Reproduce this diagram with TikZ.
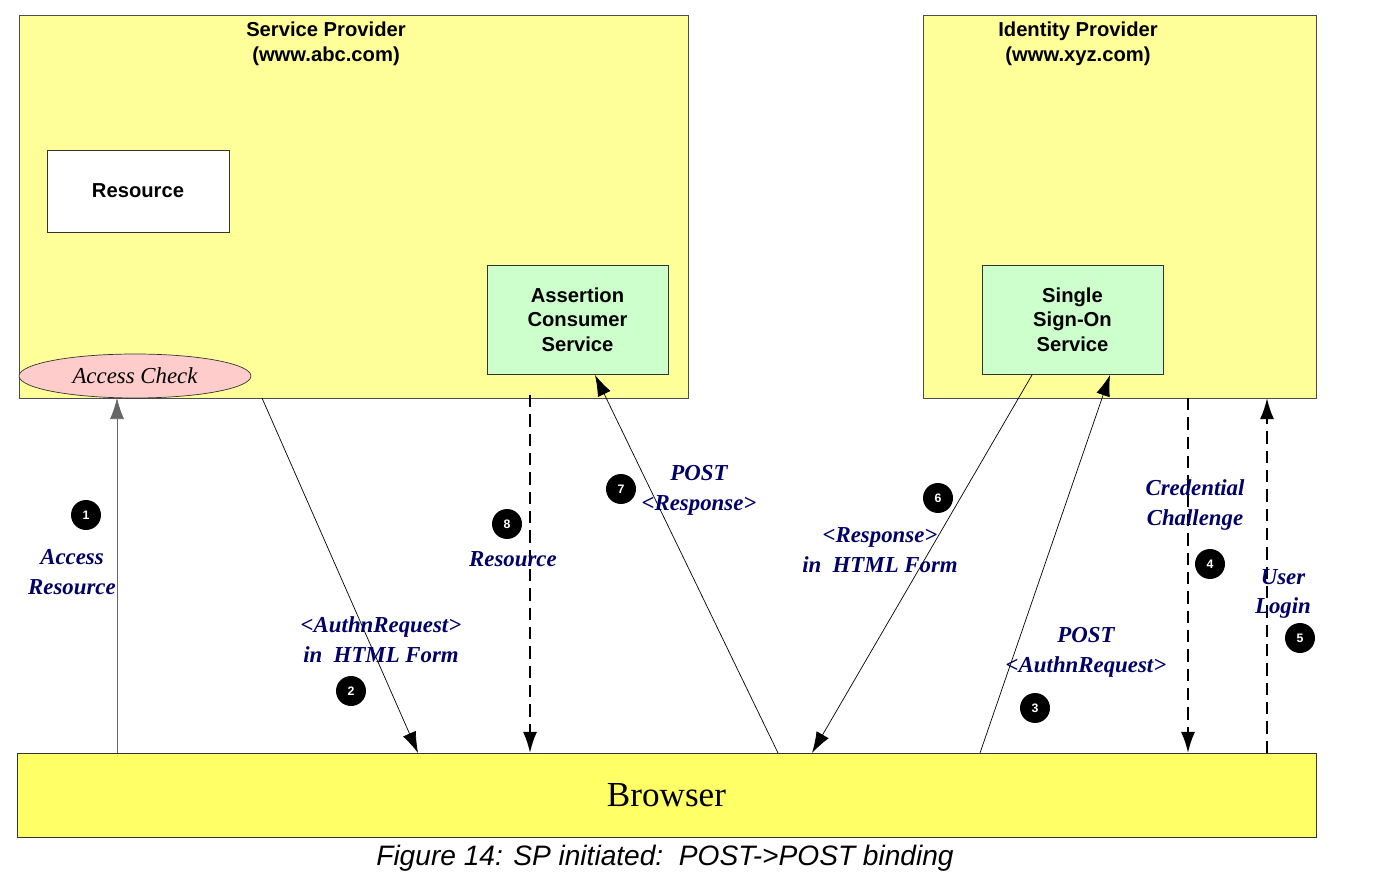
\documentclass[tikz,border=0pt]{standalone}
\usepackage{fontspec}
\setmainfont{Liberation Serif}
\newfontfamily\sansf{Liberation Sans}
\usetikzlibrary{shapes.geometric, arrows.meta}
\definecolor{pyellow}{HTML}{FFFF99}
\definecolor{byellow}{HTML}{FFFF66}
\definecolor{pgreen}{HTML}{CCFFCC}
\definecolor{ppink}{HTML}{FFCCCC}
\definecolor{lblue}{HTML}{000066}
\begin{document}
\begin{tikzpicture}[x=0.02cm, y=-0.02cm,
    party/.style={draw=black!70, fill=pyellow},
    svc/.style={draw=black!80, fill=pgreen, align=center, font=\sansf\bfseries\fontsize{11.5}{14}\selectfont},
    stepno/.style={circle, fill=black, text=white, inner sep=0pt, minimum size=0.6cm, font=\sansf\bfseries\scriptsize},
    msg/.style={text=lblue, align=center, font=\bfseries\itshape\fontsize{13}{17}\selectfont},
    flow/.style={-{Latex[length=12pt, width=8pt]}, thin},
    ret/.style={-{Latex[length=12pt, width=8pt]}, very thick, dashed, dash pattern=on 7pt off 4pt},
]
  \useasboundingbox (0,0) rectangle (1376,884);

  % parties
  \draw[party] (19,15) rectangle (688,398);
  \node[font=\sansf\bfseries\fontsize{11.5}{14}\selectfont, align=center] (sp) at (326,44) {Service Provider\\(www.abc.com)};
  \draw[party] (923,15) rectangle (1316,398);
  \node[font=\sansf\bfseries\fontsize{11.5}{14}\selectfont, align=center] (idp) at (1078,44) {Identity Provider\\(www.xyz.com)};

  \node[draw=black!80, fill=white, minimum width=3.64cm, minimum height=1.64cm, font=\sansf\bfseries\fontsize{11.5}{14}\selectfont] (res) at (138,191) {Resource};
  \node[svc, minimum width=3.62cm, minimum height=2.18cm] (acs) at (577.5,319.5) {Assertion\\Consumer\\Service};
  \node[svc, minimum width=3.62cm, minimum height=2.18cm] (sso) at (1072.5,319.5) {Single\\Sign-On\\Service};
  \node[ellipse, draw=black!80, fill=ppink, minimum width=4.64cm, minimum height=0.88cm, inner sep=0pt, font=\itshape\fontsize{13}{15}\selectfont] (chk) at (135,376) {Access Check};

  \node[draw=black!80, fill=byellow, minimum width=25.98cm, minimum height=1.68cm, font=\fontsize{20}{24}\selectfont] (br) at (666.5,795) {Browser};

  % connectors
  \coordinate (b1) at (117,753);  \coordinate (c1) at (117,398);
  \coordinate (s2) at (262,398);  \coordinate (b2) at (418,753);
  \coordinate (s8) at (530,395);  \coordinate (b8) at (530,753);
  \coordinate (b7) at (778,753);  \coordinate (a7) at (595,375);
  \coordinate (s6) at (1032,375); \coordinate (b6) at (812,753);
  \coordinate (b3) at (980,753);  \coordinate (a3) at (1110,375);
  \coordinate (s4) at (1188,398); \coordinate (b4) at (1188,753);
  \coordinate (b5) at (1267,753); \coordinate (a5) at (1267,398);
  \draw[flow, draw=black!60] (b1) -- (c1);
  \draw[flow] (s2) -- (b2);
  \draw[ret] (s8) -- (b8);
  \draw[flow] (b7) -- (a7);
  \draw[flow] (s6) -- (b6);
  \draw[flow] (b3) -- (a3);
  \draw[ret] (s4) -- (b4);
  \draw[ret] (b5) -- (a5);

  % labels
  \node[msg] (m1) at (72,572) {Access\\Resource};
  \node[msg] (m2) at (381,640) {<AuthnRequest>\\in\ \ HTML Form};
  \node[msg] (m8) at (513,559) {Resource};
  \node[msg] (m7) at (699,490) {POST\\<Response>};
  \node[msg] (m6) at (880,550) {<Response>\\in\ \ HTML Form};
  \node[msg] (m3) at (1086,652) {POST\\<AuthnRequest>};
  \node[msg] (m4) at (1195,505) {Credential\\Challenge};
  \node[msg] (m5) at (1283,594) {User\\Login};

  \node[stepno] (n1) at (86,515) {1};
  \node[stepno] (n2) at (351,691) {2};
  \node[stepno] (n3) at (1035,708) {3};
  \node[stepno] (n4) at (1210,564) {4};
  \node[stepno] (n5) at (1300,638) {5};
  \node[stepno] (n6) at (938,498) {6};
  \node[stepno] (n7) at (621,489) {7};
  \node[stepno] (n8) at (507,524) {8};

  \node[font=\sansf\itshape\fontsize{16}{19}\selectfont] (cap) at (665,858) {Figure 14: SP initiated:\ \ POST->POST binding};
\end{tikzpicture}
\end{document}
